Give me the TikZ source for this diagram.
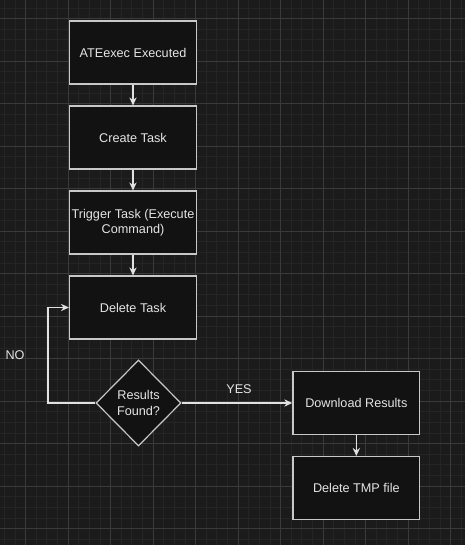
\documentclass[tikz,border=0pt]{standalone}
\usepackage{fontspec}
\setmainfont{Liberation Sans}
\usetikzlibrary{positioning,shapes.geometric,arrows.meta,calc}
\definecolor{bgdark}{RGB}{27,27,27}
\definecolor{gridminor}{RGB}{37,37,37}
\definecolor{gridmajor}{RGB}{58,58,58}
\definecolor{boxfill}{RGB}{18,18,18}
\definecolor{boxline}{RGB}{200,200,200}
\definecolor{flowline}{RGB}{225,225,225}
\definecolor{txt}{RGB}{228,228,228}
\tikzset{
  >={Stealth[length=6pt,width=5.5pt]},
  node distance=15.65pt,
  flow/.style={->,draw=flowline,line width=0.9pt},
  label text/.style={text=txt,font=\fontsize{9.5}{11.6}\selectfont},
  stepbox/.style={rectangle,label text,align=center,draw=boxline,fill=boxfill,
    line width=1.1pt,minimum width=95pt,minimum height=47pt,inner sep=1pt},
  decision/.style={diamond,label text,align=center,draw=boxline,fill=boxfill,
    line width=0.9pt,minimum width=63.75pt,minimum height=64.5pt,inner sep=0pt}
}
\begin{document}
\begin{tikzpicture}[x=0.75pt,y=-0.75pt]
  \useasboundingbox (0,0) rectangle (465,545);
  \fill[bgdark] (0,0) rectangle (465,545);
  % grid
  \foreach \gx in {4.25,14.875,...,465} \draw[gridminor,line width=0.5pt] (\gx,0) -- (\gx,545);
  \foreach \gy in {7.875,18.5,...,545} \draw[gridminor,line width=0.5pt] (0,\gy) -- (465,\gy);
  \foreach \gx in {25.5,68,...,465} \draw[gridmajor,line width=0.6pt] (\gx,0) -- (\gx,545);
  \foreach \gy in {18.5,61,...,545} \draw[gridmajor,line width=0.6pt] (0,\gy) -- (465,\gy);

  \node[stepbox] (exec) at (133,52.5) {ATEexec Executed};
  \node[stepbox,below=of exec] (create) {Create Task};
  \node[stepbox,below=of create] (trigger) {Trigger Task (Execute\\Command)};
  \node[stepbox,below=of trigger] (deltask) {Delete Task};
  \node[decision] (found) at (138.5,403) {Results\\Found?};
  \node[stepbox,right=83pt of found] (download) {Download Results};
  \node[stepbox,below=of download] (deltmp) {Delete TMP file};
  \coordinate (nobend) at (48,403);

  \path (exec) edge[flow] (create)
        (create) edge[flow] (trigger)
        (trigger) edge[flow] (deltask)
        (found) edge[flow] (download)
        (download) edge[flow] (deltmp);
  \draw[flow] (found.west) -- (nobend) |- (deltask.west);

  \node[label text] (no) at (15,355) {NO};
  \node[label text] (yes) at (239,389) {YES};
\end{tikzpicture}
\end{document}
